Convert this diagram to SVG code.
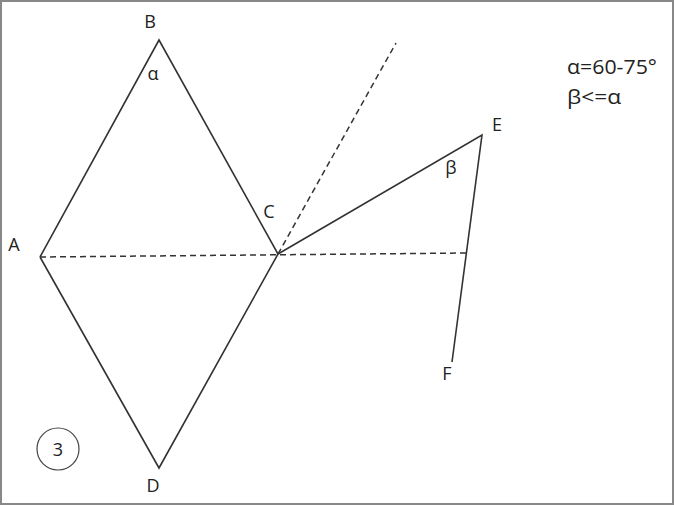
<svg xmlns="http://www.w3.org/2000/svg" width="674" height="505" viewBox="0 0 674 505">
<style>
.ln{stroke:#333;stroke-width:1.6;fill:none}
.dash{stroke:#333;stroke-width:1.5;fill:none;stroke-dasharray:6 4}
text{font-family:"Open Sans","Liberation Sans",sans-serif;font-size:18px;fill:#222}
.lg{font-size:20px}
</style>
<rect x="1" y="1" width="672" height="503" fill="#fff" stroke="#888" stroke-width="2"/>
<g id="connectors">
<polyline class="ln" points="40,257 159,40 278,254 159,468 40,257"/>
<polyline class="ln" points="278,254 482,135 452,362"/>
<line class="dash" x1="40" y1="257" x2="468" y2="253"/>
<line class="dash" x1="278" y1="254" x2="396" y2="43"/>
</g>
<g id="A"><text x="14" y="251" text-anchor="middle">A</text></g>
<g id="B"><text x="150" y="28" text-anchor="middle">B</text></g>
<g id="C"><text x="269" y="218" text-anchor="middle">C</text></g>
<g id="D"><text x="153" y="492" text-anchor="middle">D</text></g>
<g id="E"><text x="497" y="131" text-anchor="middle">E</text></g>
<g id="F"><text x="447" y="380" text-anchor="middle">F</text></g>
<g id="alpha"><text x="153" y="80" text-anchor="middle" font-size="20">α</text></g>
<g id="beta"><text x="451" y="174" text-anchor="middle">β</text></g>
<g id="legend">
<text class="lg" x="567" y="74" textLength="90" lengthAdjust="spacingAndGlyphs">α=60-75°</text>
<text class="lg" x="567" y="104" textLength="54" lengthAdjust="spacingAndGlyphs">β&lt;=α</text>
</g>
<g id="badge">
<circle cx="58" cy="449" r="21" fill="none" stroke="#444" stroke-width="1.2"/>
<text x="58" y="456" text-anchor="middle">3</text>
</g>
</svg>
